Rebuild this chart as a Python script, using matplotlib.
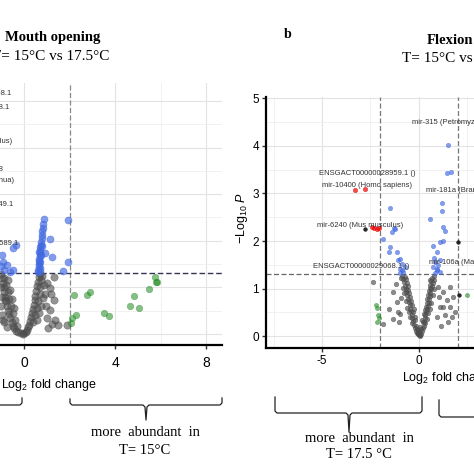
import matplotlib
matplotlib.use("Agg")
import matplotlib.pyplot as plt
from matplotlib.lines import Line2D
from matplotlib.ticker import MultipleLocator

plt.rcParams["font.family"] = ["Liberation Sans", "DejaVu Sans"]
plt.rcParams["mathtext.fontset"] = "custom"
plt.rcParams["mathtext.rm"] = "Liberation Sans"
plt.rcParams["mathtext.it"] = "Liberation Sans:italic"
plt.rcParams["axes.unicode_minus"] = False

# ---------------- data : panel a (Mouth opening) ----------------
a_ns = [(-0.05,0.01),(0.02,0.03),(-0.15,0.02),(0.08,0.05),(-0.25,0.04),(0.14,0.08),(-0.35,0.07),
        (0.18,0.14),(-0.42,0.12),(0.22,0.20),(-0.48,0.18),(0.26,0.28),(-0.55,0.25),(0.30,0.36),
        (-0.60,0.34),(0.34,0.45),(-0.65,0.42),(0.38,0.54),(-0.70,0.50),(0.42,0.62),(-0.74,0.60),
        (0.46,0.72),(-0.78,0.70),(0.50,0.82),(-0.82,0.80),(0.54,0.92),(-0.86,0.90),(0.58,1.02),
        (-0.90,1.00),(0.62,1.12),(-0.94,1.10),(0.66,1.22),(-0.98,1.20),(0.70,1.28),(-1.00,1.28),
        (-0.40,0.30),(-0.50,0.45),(-0.58,0.60),(-0.66,0.75),(-0.72,0.90),(-0.80,1.05),(-0.86,1.20),
        (-0.30,0.18),(-0.45,0.55),(-0.55,0.75),(-0.62,0.95),(-0.70,1.15),(-0.95,0.40),(-1.00,0.60),
        (-0.98,0.80),(-1.02,1.00),(-0.88,0.25),(-0.75,0.15),(0.48,0.40),(0.55,0.55),(0.62,0.70),
        (0.68,0.85),(0.72,1.00),(0.76,1.15),(0.80,1.25),(0.40,0.25),(0.58,0.30),(0.66,0.45),
        (0.74,0.60),(0.82,0.78),(0.86,1.05),(1.14,0.99),(1.30,0.73),(1.14,0.51),(1.36,0.30),
        (1.50,0.19),(1.05,0.13),(1.22,0.22),(1.88,0.19),(1.30,1.22),(1.00,1.09),(0.95,0.60),
        (1.00,0.35),(-0.92,0.30),(-0.83,0.73),(1.20,0.85),(0.92,0.85)]
a_p = [(0.62,1.32),(0.63,1.38),(0.64,1.45),(0.65,1.50),(0.66,1.56),(0.67,1.62),(0.68,1.68),
       (0.70,1.74),(0.71,1.80),(0.72,1.86),(0.74,1.92),(0.75,1.98),(0.77,2.05),(0.78,2.12),
       (0.80,2.20),(0.82,2.28),(0.84,2.36),(0.87,2.47),(0.68,1.42),(0.72,1.55),(0.76,1.70),
       (0.80,1.88),(0.66,1.75),(0.70,1.35),(1.14,2.04),(1.22,1.66),(0.92,1.73),(1.73,1.35),
       (1.95,2.45),(1.95,1.55),(-0.91,1.55),(-0.76,1.48),(-0.48,1.37),(-0.90,1.38),(-0.48,1.84),
       (-0.35,1.90),(-0.95,1.70),(-1.00,1.45),(-0.60,1.33)]
a_fc = [(2.20,0.84),(2.75,0.84),(2.90,0.90),(3.50,0.45),(3.75,0.39),(4.65,0.60),(4.85,0.82),
        (5.07,0.56),(5.47,0.96),(5.80,1.12),(5.77,1.22),(5.85,1.12),(2.10,0.34),(2.30,0.40),
        (2.05,0.23)]
a_labels = ["ENSGACT00000028958.1", "ENSGACT00000026898.1", "mir-6240 (Mus musculus)",
            "ENSGACT00000027588", "mir-196d (Gadus morhua)", "ENSGACT00000026949.1",
            "ENSGACT00000027589.1"]
a_label_pos = [(-0.53,5.17),(-0.62,4.85),(-0.53,4.12),(-0.92,3.52),(-0.44,3.30),(-0.44,2.77),(-0.22,1.95)]

# ---------------- data : panel b (Flexion) ----------------
b_ns = [(0.00,0.02),(0.06,0.03),(-0.06,0.04),(0.12,0.05),(-0.12,0.06),(0.02,0.09),(-0.03,0.12),
        (0.16,0.10),(-0.17,0.11),(0.20,0.16),(-0.21,0.17),(0.10,0.14),(-0.09,0.15),(0.24,0.22),
        (-0.25,0.24),(0.27,0.30),(-0.29,0.31),(0.30,0.37),(-0.33,0.38),(0.22,0.30),(-0.22,0.33),
        (0.34,0.44),(-0.36,0.45),(0.38,0.50),(-0.40,0.52),(0.28,0.46),(-0.30,0.50),(0.42,0.57),
        (-0.44,0.58),(0.45,0.64),(-0.48,0.65),(0.36,0.62),(-0.38,0.66),(0.50,0.70),(-0.52,0.72),
        (0.53,0.77),(-0.56,0.79),(0.44,0.78),(-0.46,0.82),(0.57,0.84),(-0.60,0.86),(0.60,0.91),
        (-0.64,0.93),(0.52,0.94),(-0.55,0.97),(0.64,0.98),(-0.68,1.00),(0.68,1.05),(-0.72,1.06),
        (0.60,1.08),(-0.63,1.12),(0.72,1.12),(-0.76,1.13),(0.76,1.19),(-0.80,1.20),(0.68,1.22),
        (-0.72,1.24),(0.80,1.26),(-0.86,1.27),(0.56,1.18),(-0.90,1.22),(0.33,0.27),(-0.36,0.28),
        (0.40,0.36),(-0.44,0.40),(0.48,0.48),(-0.52,0.50),(0.56,0.58),(-0.60,0.60),(0.64,0.70),
        (-0.68,0.74),(0.72,0.86),(-0.76,0.90),(0.78,0.98),(-0.84,1.02),(-2.35,1.14),(-1.32,0.93),
        (-1.15,0.72),(-1.07,0.51),(-0.90,0.80),(-0.95,0.47),(-1.85,0.26),(-1.35,0.36),(-1.55,0.58),
        (-1.20,1.10),(-1.00,0.30),(1.25,0.93),(1.43,0.75),(1.60,0.61),(1.77,0.82),(1.86,0.51),
        (1.34,0.44),(1.08,0.61),(1.00,1.03),(0.91,0.40),(1.60,1.03),(1.15,0.22),(1.50,0.30),
        (1.25,0.62),(1.05,0.82),(1.70,0.40),(0.08,0.20),(-0.14,0.22),(0.18,0.34),(-0.18,0.40),
        (0.30,0.55),(-0.26,0.58),(0.40,0.70),(-0.42,0.74),(0.47,0.86),(-0.50,0.90),(0.55,1.02),
        (-0.58,1.06),(0.62,1.15),(-0.66,1.20),(0.04,0.00),(-0.02,0.06)]
b_p = [(-1.84,2.04),(-1.50,1.87),(-1.41,2.18),(-1.24,2.25),(-1.15,1.76),(-1.53,1.76),(-0.98,1.62),
       (-0.89,1.52),(-0.98,1.42),(-0.81,1.35),(-1.07,1.59),(-0.72,1.45),(-1.50,2.70),(-1.30,2.27),
       (-0.85,1.38),(-0.95,1.33),(1.17,2.81),(1.17,2.64),(0.57,2.46),(1.25,2.29),(1.34,2.22),
       (1.08,1.97),(1.25,2.00),(0.74,1.90),(0.91,1.76),(0.82,1.56),(1.00,1.49),(0.91,1.38),
       (1.08,1.35),(0.74,1.45),(1.08,1.59),(0.85,1.33),(1.46,3.44),(1.68,3.45),(1.50,4.02),
       (0.95,1.42),(0.80,1.65)]
b_fc = [(2.47,0.86),(-2.16,0.60),(-2.06,0.38),(-2.22,0.66),(-2.10,0.45),(-2.15,0.30)]
b_sig = [(-2.78,3.10),(-3.30,3.07),(-2.30,2.27),(-2.15,2.26),(-2.05,2.28),(-2.42,2.29)]
b_dark = [(-2.78,2.26),(2.03,1.97),(2.06,0.86)]
b_labels = ["mir-315 (Petromyzon marinus)", "ENSGACT00000028959.1 ()", "mir-10400 (Homo sapiens)",
            "mir-181a (Branchiostoma belcheri)", "mir-6240 (Mus musculus)",
            "ENSGACT00000029068.1 ()", "mir-106a (Macaca mulatta)"]
b_label_pos = [(-0.36,4.50),(-5.15,3.43),(-5.00,3.16),(0.36,3.07),(-5.26,2.32),(-5.46,1.46),(0.52,1.55)]

FC_CUT = 2.0
P_CUT = 1.3

# ---------------- figure ----------------
W = H = 474
fig = plt.figure(figsize=(4.74, 4.74), dpi=100)
fig.patch.set_facecolor("white")

def fx(px):
    return px / W

def fy(py):
    return 1 - py / H

def axes_px(left, top, right, bottom):
    return fig.add_axes([left / W, 1 - bottom / H, (right - left) / W, (bottom - top) / H])

axA = axes_px(-125, 83, 222, 345)
axB = axes_px(266, 97, 632, 348)

def style(ax, xmaj, xmin, tsize, pad):
    ax.set_facecolor("white")
    for s in ["top", "right"]:
        ax.spines[s].set_visible(False)
    for s in ["left", "bottom"]:
        ax.spines[s].set_color("black")
        ax.spines[s].set_linewidth(1.6)
    ax.xaxis.set_major_locator(MultipleLocator(xmaj))
    ax.xaxis.set_minor_locator(MultipleLocator(xmin))
    ax.yaxis.set_major_locator(MultipleLocator(1))
    ax.yaxis.set_minor_locator(MultipleLocator(0.5))
    ax.grid(which="major", color="#e3e3e3", lw=0.8)
    ax.grid(which="minor", color="#efefef", lw=0.6)
    ax.set_axisbelow(True)
    ax.tick_params(which="major", length=3, width=1, labelsize=tsize, pad=pad, color="#333333")
    ax.tick_params(which="minor", length=0)

def pts(ax, data, color, s, alpha, z=3):
    xs = [p[0] for p in data]
    ys = [p[1] for p in data]
    ax.scatter(xs, ys, s=s, color=color, alpha=alpha, edgecolors=color, linewidths=0.4, zorder=z)

# panel a
style(axA, 4, 2, 10, 5)
axA.set_xlim(-6.55, 8.70)
axA.set_ylim(-0.236, 5.386)
axA.axvline(FC_CUT, ls=(0, (4, 2)), color="#888888", lw=0.9, zorder=2)
axA.axvline(-FC_CUT, ls=(0, (4, 2)), color="#888888", lw=0.9, zorder=2)
axA.axhline(P_CUT, ls=(0, (4, 2)), color="#333355", lw=1.0, zorder=2)
pts(axA, a_ns, "#4d4d4d", 28, 0.6)
pts(axA, a_p, "#4169e1", 26, 0.65)
pts(axA, a_fc, "#228b22", 22, 0.55)
for t, (x, y) in zip(a_labels, a_label_pos):
    axA.text(x, y, t, ha="right", va="center", fontsize=5.5, color="#333333", zorder=5)

# panel b
style(axB, 5, 2.5, 8.5, 2)
axB.set_xlim(-7.89, 11.0)
axB.set_ylim(-0.251, 5.03)
axB.axvline(FC_CUT, ls=(0, (4, 2)), color="#777777", lw=0.9, zorder=2)
axB.axvline(-FC_CUT, ls=(0, (4, 2)), color="#777777", lw=0.9, zorder=2)
axB.axhline(P_CUT, ls=(0, (4, 2)), color="#666666", lw=0.9, zorder=2)
pts(axB, b_ns, "#4d4d4d", 11, 0.65)
pts(axB, b_p, "#4169e1", 10, 0.65)
pts(axB, b_fc, "#228b22", 9, 0.6)
pts(axB, b_sig, "#ee0000", 10, 0.7)
pts(axB, b_dark, "#111111", 7, 0.9)
for t, (x, y) in zip(b_labels, b_label_pos):
    axB.text(x, y, t, ha="left", va="center", fontsize=5.5, color="#333333", zorder=5)

# titles
serif = ["Liberation Serif", "DejaVu Serif"]
fig.text(fx(5), fy(38), "Mouth opening", family=serif, weight="bold", fontsize=10.5, ha="left", va="center")
fig.text(fx(109), fy(56), "T= 15°C vs 17.5°C", family=serif, fontsize=11, ha="right", va="center")
fig.text(fx(284), fy(34), "b", family=serif, weight="bold", fontsize=10, ha="left", va="center")
fig.text(fx(427), fy(41), "Flexion", family=serif, weight="bold", fontsize=10.5, ha="left", va="center")
fig.text(fx(402), fy(59), "T= 15°C vs 17.5°C", family=serif, fontsize=11, ha="left", va="center")

# axis labels
fig.text(fx(48.5), fy(385), r"Log$_2$ fold change", fontsize=9, ha="center", va="center")
fig.text(fx(402), fy(378), r"Log$_2$ fold change", fontsize=9, ha="left", va="center")
fig.text(fx(242), fy(218), r"$-$Log$_{10}$ $\it{P}$", fontsize=9, ha="center", va="center", rotation=90)

# braces
def brace(path):
    xs = [fx(p[0]) for p in path]
    ys = [fy(p[1]) for p in path]
    fig.add_artist(Line2D(xs, ys, color="#222222", lw=0.9, transform=fig.transFigure))

brace([(0, 405), (20, 405), (22, 403), (22, 398)])
brace([(70, 399), (70, 403), (72, 405), (143, 405), (145, 407), (146, 420), (147, 407),
       (149, 405), (220, 405), (222, 403), (222, 398)])
brace([(275, 397), (275, 411), (277, 413), (346, 413), (348, 415), (349, 432), (350, 415),
       (352, 413), (420, 413), (422, 411), (422, 397)])
brace([(439, 400), (439, 415), (441, 417), (474, 417)])

fig.text(fx(145), fy(433), "more  abundant  in", family=serif, fontsize=10.5, ha="center", va="center")
fig.text(fx(145), fy(451), "T= 15°C", family=serif, fontsize=10.5, ha="center", va="center")
fig.text(fx(359), fy(438), "more  abundant  in", family=serif, fontsize=10.5, ha="center", va="center")
fig.text(fx(359), fy(455), "T= 17.5 °C", family=serif, fontsize=10.5, ha="center", va="center")

fig.savefig("out.png", dpi=100, facecolor="white")
